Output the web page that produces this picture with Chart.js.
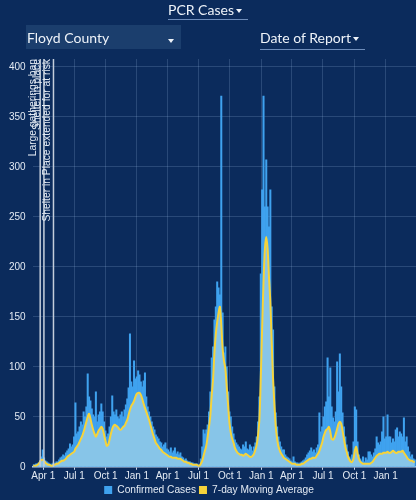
<!DOCTYPE html>
<html>
<head>
<meta charset="utf-8">
<script src="https://cdn.jsdelivr.net/npm/chart.js@4.4.0/dist/chart.umd.min.js"></script>
<style>
	html, body { margin: 0; padding: 0; background: #0b2b5c; }
	#wrap { position: relative; width: 416px; height: 500px; background: #0b2b5c; overflow: hidden; }
	#chartBox { position: absolute; left: 0; top: 0; width: 416px; height: 500px; }
	.ctl { position: absolute; font-family: Lato, sans-serif; font-size: 14px; color: #eef3f9; line-height: 17px; white-space: nowrap; }
	.caret { display: inline-block; width: 0; height: 0; border-left: 3.5px solid transparent; border-right: 3.5px solid transparent; border-top: 4px solid #eef3f9; vertical-align: middle; margin-left: 2px; }
</style>
</head>
<body>
<div id="wrap">
	<div id="chartBox"><canvas id="casesChart"></canvas></div>
	<div class="ctl" style="left:168px; top:1px; width:80px; height:18px; border-bottom:1px solid #6e8dbb;">PCR Cases<span class="caret"></span></div>
	<div class="ctl" style="left:26px; top:25px; width:155px; height:24px; background:#1b3e6d;">
		<span style="position:absolute; left:1px; top:4px;">Floyd County</span>
		<span class="caret" style="position:absolute; left:142px; top:14px; margin:0;"></span>
	</div>
	<div class="ctl" style="left:260px; top:29px; width:105px; height:20px; border-bottom:1px solid #6e8dbb;">Date of Report<span class="caret"></span></div>
</div>
<script>
// Data: 4-day bins starting Mar 1 2020
const startDate = Date.UTC(2020, 2, 1);
const binDays = 4;

const tickDates = ["2020-04-01", "2020-07-01", "2020-10-01", "2021-01-01", "2021-04-01", "2021-07-01",
	"2021-10-01", "2022-01-01", "2022-04-01", "2022-07-01", "2022-10-01", "2023-01-01"];
const tickLabels = ["Apr 1", "Jul 1", "Oct 1", "Jan 1", "Apr 1", "Jul 1",
	"Oct 1", "Jan 1", "Apr 1", "Jul 1", "Oct 1", "Jan 1"];

const eventDates = ["2020-03-23", "2020-04-03", "2020-05-01"];
const eventLabels = ["Large gatherings ban", "Shelter in place", "Shelter in Place extended for at risk"];

// Confirmed cases (peak day in each bin)
const casesValues = [
	2, 2, 3, 3, 4, 6, 10, 17, 9, 6,
	5, 4, 3, 2, 3, 4, 3, 5, 5, 7,
	9, 10, 12, 11, 14, 16, 18, 23, 20, 22,
	30, 64, 33, 35, 40, 45, 42, 55, 50, 60,
	93, 70, 66, 58, 52, 50, 75, 45, 52, 55,
	63, 55, 45, 36, 30, 33, 40, 50, 71, 55,
	52, 57, 50, 48, 52, 55, 50, 57, 62, 68,
	79, 133, 85, 80, 106, 88, 90, 96, 92, 85,
	80, 86, 94, 70, 60, 55, 50, 45, 40, 37,
	32, 30, 28, 25, 24, 20, 22, 24, 18, 17,
	15, 19, 14, 16, 19, 13, 15, 12, 14, 10,
	9, 7, 8, 6, 5, 5, 4, 4, 3, 3,
	3, 2, 2, 8, 20, 37, 33, 37, 42, 55,
	75, 109, 120, 147, 160, 185, 179, 172, 371, 154,
	114, 120, 100, 75, 55, 50, 40, 33, 27, 24,
	22, 20, 18, 17, 22, 20, 25, 18, 17, 22,
	20, 16, 20, 24, 30, 45, 70, 193, 277, 371,
	260, 307, 260, 240, 277, 160, 137, 80, 54, 40,
	30, 25, 20, 17, 17, 12, 10, 9, 8, 6,
	5, 10, 5, 4, 4, 3, 4, 5, 6, 7,
	9, 12, 14, 16, 19, 15, 17, 14, 19, 22,
	54, 35, 40, 50, 60, 65, 109, 70, 99, 60,
	49, 45, 55, 105, 75, 113, 80, 54, 40, 30,
	22, 15, 10, 8, 12, 25, 60, 57, 25, 12,
	8, 6, 10, 5, 9, 7, 15, 15, 12, 10,
	14, 18, 30, 24, 22, 25, 35, 50, 28, 30,
	52, 30, 30, 24, 28, 25, 37, 39, 30, 35,
	33, 30, 49, 25, 30, 20, 15, 10, 12, 8, 7
];

// 7-day moving average
const averageValues = [
	1, 1, 1, 2, 3, 5, 7, 7, 6, 4,
	3, 2, 2, 1, 1, 2, 2, 3, 3, 4,
	5, 6, 6, 7, 8, 10, 11, 12, 13, 14,
	15, 18, 20, 22, 25, 28, 31, 35, 40, 45,
	50, 53, 48, 42, 37, 33, 30, 33, 36, 38,
	40, 38, 32, 26, 21, 22, 27, 33, 38, 41,
	42, 41, 40, 38, 37, 38, 40, 41, 44, 47,
	52, 57, 61, 63, 66, 70, 73, 74, 74, 72,
	68, 63, 59, 55, 51, 47, 42, 37, 32, 28,
	24, 22, 20, 18, 17, 15, 14, 13, 12, 11,
	10, 10, 9, 9, 9, 9, 8, 8, 8, 7,
	6, 5, 5, 4, 4, 3, 3, 2, 2, 2,
	2, 1, 1, 3, 6, 11, 16, 21, 30, 40,
	52, 72, 88, 115, 133, 145, 154, 160, 142, 118,
	106, 98, 80, 62, 44, 34, 28, 24, 19, 16,
	14, 13, 12, 12, 11, 12, 13, 12, 11, 10,
	10, 11, 13, 17, 22, 32, 48, 90, 140, 185,
	218, 230, 218, 190, 165, 125, 88, 62, 40, 28,
	20, 16, 13, 11, 9, 8, 7, 6, 5, 4,
	3, 3, 3, 2, 2, 2, 2, 3, 3, 4,
	5, 6, 7, 8, 8, 9, 9, 9, 11, 13,
	16, 20, 24, 30, 34, 37, 38, 40, 35, 28,
	27, 29, 33, 38, 43, 45, 43, 36, 28, 20,
	15, 10, 7, 5, 5, 8, 16, 20, 13, 8,
	5, 4, 3, 3, 3, 3, 3, 3, 4, 5,
	7, 9, 11, 12, 13, 13, 13, 14, 14, 14,
	15, 14, 14, 15, 16, 15, 14, 14, 15, 15,
	15, 16, 14, 12, 10, 8, 7, 6, 6, 5, 5
];

const barBlue = "#3fa2ef";
const fillBlue = "#87c5e8";
const avgYellow = "#f6d33a";
const textColor = "#e3eaf3";
const gridColor = "rgba(150, 180, 225, 0.22)";
const fontFamily = '"Liberation Sans", Arial, sans-serif';

function dayOf(iso) {
	const [y, m, d] = iso.split("-").map(Number);
	return (Date.UTC(y, m - 1, d) - startDate) / 86400000;
}

const tickDays = tickDates.map(dayOf);
const binCenter = (i) => i * binDays + 1.5;

// Vertical event markers with rotated labels
const eventLines = {
	id: "eventLines",
	afterDatasetsDraw(chart) {
		const { ctx, chartArea, scales } = chart;
		ctx.save();
		eventDates.forEach((d, i) => {
			const px = scales.x.getPixelForValue(dayOf(d));
			ctx.strokeStyle = "#c3cddb";
			ctx.lineWidth = 1.5;
			ctx.beginPath();
			ctx.moveTo(px, chartArea.top);
			ctx.lineTo(px, chartArea.bottom);
			ctx.stroke();
			ctx.save();
			ctx.translate(px - 1.5, chartArea.top);
			ctx.rotate(-Math.PI / 2);
			ctx.fillStyle = textColor;
			ctx.font = "10.3px " + fontFamily;
			ctx.textAlign = "right";
			ctx.textBaseline = "bottom";
			ctx.fillText(eventLabels[i], 0, 0);
			ctx.restore();
		});
		ctx.restore();
	}
};

const chartConfig = {
	data: {
		datasets: [
			{
				type: "bar",
				label: "Confirmed Cases",
				data: casesValues.map((v, i) => ({ x: binCenter(i), y: v })),
				backgroundColor: barBlue,
				borderWidth: 0,
				barPercentage: 1,
				categoryPercentage: 1,
				order: 1,
			},
			{
				type: "line",
				label: "7-day Moving Average",
				data: averageValues.map((v, i) => ({ x: binCenter(i), y: v })),
				borderColor: avgYellow,
				backgroundColor: fillBlue,
				borderWidth: 2,
				fill: "origin",
				pointRadius: 0,
				tension: 0.3,
				order: 0,
			},
		],
	},
	options: {
		responsive: true,
		maintainAspectRatio: false,
		animation: false,
		layout: { padding: { left: 2, right: 0, top: 59, bottom: -5 } },
		plugins: {
			tooltip: { enabled: false },
			legend: {
				position: "bottom",
				labels: {
					color: textColor,
					font: { size: 10.2, family: fontFamily },
					boxWidth: 8,
					boxHeight: 8,
					padding: 3,
					generateLabels: () => [
						{ text: "Confirmed Cases", fillStyle: barBlue, strokeStyle: barBlue, lineWidth: 0, fontColor: textColor, datasetIndex: 0 },
						{ text: "7-day Moving Average", fillStyle: avgYellow, strokeStyle: avgYellow, lineWidth: 0, fontColor: textColor, datasetIndex: 1 },
					],
				},
			},
		},
		scales: {
			x: {
				type: "linear",
				min: 0,
				max: 1125,
				offset: false,
				afterBuildTicks: (scale) => {
					scale.ticks = tickDays.map((v) => ({ value: v }));
				},
				afterFit: (scale) => {
					scale.paddingLeft = 0;
					scale.paddingRight = 0;
				},
				ticks: {
					autoSkip: false,
					maxRotation: 0,
					padding: 1,
					color: textColor,
					font: { size: 10, family: fontFamily, lineHeight: 1 },
					callback: (value) => tickLabels[tickDays.indexOf(value)],
				},
				grid: { offset: false, color: gridColor, tickColor: "#c8d6ea", tickLength: 3 },
				border: { display: true, color: "#c8d6ea", width: 1.5 },
			},
			y: {
				min: 0,
				max: 408,
				ticks: {
					stepSize: 50,
					includeBounds: false,
					padding: 7,
					color: textColor,
					font: { size: 10, family: fontFamily },
				},
				grid: { color: gridColor, drawTicks: false },
				border: { display: false },
			},
		},
	},
	plugins: [eventLines],
};

let casesChart;
document.addEventListener("DOMContentLoaded", () => {
	const ctx = document.getElementById("casesChart");
	casesChart = new Chart(ctx, chartConfig);
});
</script>
</body>
</html>
